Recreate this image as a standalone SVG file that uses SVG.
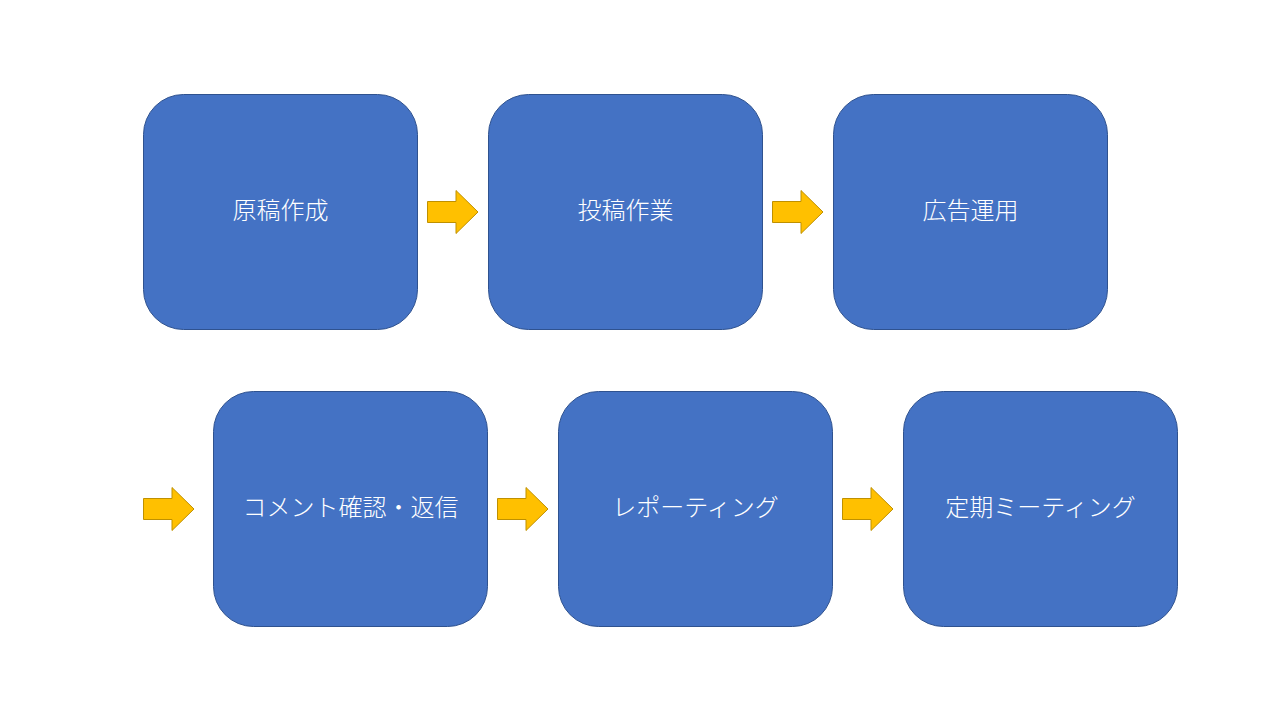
<svg xmlns="http://www.w3.org/2000/svg" width="1280" height="720" viewBox="0 0 1280 720">
<style>
.box{fill:#4472C4;stroke:#2F528F;stroke-width:1}
.lbl{fill:#FFFFFF;font-family:"Noto Sans CJK JP","Noto Sans",sans-serif;font-size:24px;font-weight:300;text-anchor:middle;dominant-baseline:central}
.arr{fill:#FFC000;stroke:#BF9000;stroke-width:1}
</style>
<defs>
<polygon id="arrow" points="0,-10.5 28.5,-10.5 28.5,-21.5 50.5,0 28.5,21.5 28.5,10.5 0,10.5"/>
</defs>
<rect width="1280" height="720" fill="#FFFFFF"/>
<g id="n1"><rect class="box" x="143.5" y="94.5" width="274" height="235" rx="40"/><text class="lbl" x="280.5" y="208.5">原稿作成</text></g>
<g id="n2"><rect class="box" x="488.5" y="94.5" width="274" height="235" rx="40"/><text class="lbl" x="625.5" y="208.5">投稿作業</text></g>
<g id="n3"><rect class="box" x="833.5" y="94.5" width="274" height="235" rx="40"/><text class="lbl" x="970.5" y="208.5">広告運用</text></g>
<g id="n4"><rect class="box" x="213.5" y="391.5" width="274" height="235" rx="40"/><text class="lbl" x="350.5" y="505.5">コメント確認・返信</text></g>
<g id="n5"><rect class="box" x="558.5" y="391.5" width="274" height="235" rx="40"/><text class="lbl" x="695.5" y="505.5">レポーティング</text></g>
<g id="n6"><rect class="box" x="903.5" y="391.5" width="274" height="235" rx="40"/><text class="lbl" x="1040.5" y="505.5">定期ミーティング</text></g>
<g id="connectors">
<use href="#arrow" class="arr" x="427.5" y="212"/>
<use href="#arrow" class="arr" x="772.5" y="212"/>
<use href="#arrow" class="arr" x="143.5" y="509"/>
<use href="#arrow" class="arr" x="497.5" y="509"/>
<use href="#arrow" class="arr" x="842.5" y="509"/>
</g>
</svg>
